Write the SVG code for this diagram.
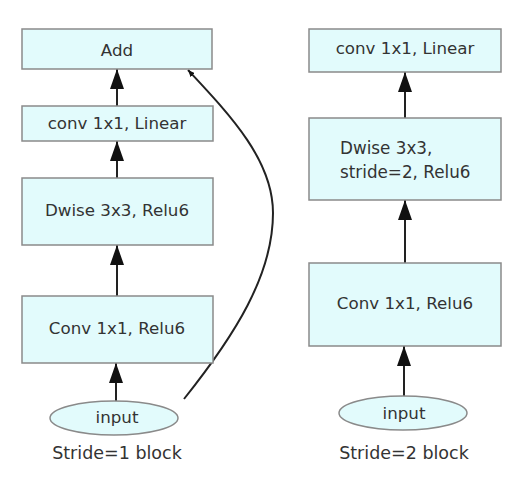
<svg xmlns="http://www.w3.org/2000/svg" width="518" height="478" viewBox="0 0 518 478">
<style>
.box{fill:#e2fbfc;stroke:#8a8a8a;stroke-width:1.5}
.t{font-family:"DejaVu Sans",sans-serif;font-size:16.7px;fill:#333;text-anchor:middle}
.tl{font-family:"DejaVu Sans",sans-serif;font-size:16.8px;fill:#333}
.cap{font-family:"DejaVu Sans",sans-serif;font-size:17.5px;fill:#333;text-anchor:middle}
.e{stroke:#222;stroke-width:2;fill:none}
</style>
<defs>
<marker id="ah" markerUnits="userSpaceOnUse" markerWidth="20" markerHeight="14" refX="20" refY="7" orient="auto" viewBox="0 0 20 14">
<path d="M0,0 L20,7 L0,14 Z" fill="#111"/>
</marker>
<marker id="ahs" markerUnits="userSpaceOnUse" markerWidth="7" markerHeight="6" refX="7" refY="3" orient="auto" viewBox="0 0 7 6">
<path d="M0,0 L7,3 L0,6 Z" fill="#111"/>
</marker>
</defs>
<rect width="518" height="478" fill="#fff"/>
<g id="connectors">
<line class="e" x1="117" y1="106" x2="117" y2="69" marker-end="url(#ah)"/>
<line class="e" x1="117" y1="178" x2="117" y2="141" marker-end="url(#ah)"/>
<line class="e" x1="117" y1="296" x2="117" y2="245" marker-end="url(#ah)"/>
<line class="e" x1="116" y1="401" x2="116" y2="363" marker-end="url(#ah)"/>
<path class="e" d="M184,399 C235,335 273,275 273,213 C273,160 230,115 188,70" stroke-width="1.6" marker-end="url(#ahs)"/>
<line class="e" x1="405" y1="118" x2="405" y2="72" marker-end="url(#ah)"/>
<line class="e" x1="405" y1="263" x2="405" y2="200" marker-end="url(#ah)"/>
<line class="e" x1="404" y1="396" x2="404" y2="346" marker-end="url(#ah)"/>
</g>
<g id="add"><rect class="box" x="22" y="29" width="190" height="40"/><text class="t" x="117" y="56">Add</text></g>
<g id="linear1"><rect class="box" x="22" y="106" width="191" height="35"/><text class="t" x="117" y="129">conv 1x1, Linear</text></g>
<g id="dwise1"><rect class="box" x="22" y="178" width="191" height="67"/><text class="t" x="117" y="216">Dwise 3x3, Relu6</text></g>
<g id="conv1"><rect class="box" x="22" y="296" width="191" height="67"/><text class="t" x="117" y="334">Conv 1x1, Relu6</text></g>
<g id="input1"><ellipse class="box" cx="114" cy="418" rx="64" ry="17"/><text class="t" x="117" y="423">input</text><text class="cap" x="117" y="459">Stride=1 block</text></g>
<g id="linear2"><rect class="box" x="309" y="29" width="192" height="43"/><text class="t" x="405" y="54">conv 1x1, Linear</text></g>
<g id="dwise2"><rect class="box" x="309" y="118" width="192" height="82"/><text class="tl" x="340" y="154">Dwise 3x3,</text><text class="tl" x="340" y="178">stride=2, Relu6</text></g>
<g id="conv2"><rect class="box" x="309" y="263" width="192" height="83"/><text class="t" x="405" y="309">Conv 1x1, Relu6</text></g>
<g id="input2"><ellipse class="box" cx="403" cy="413" rx="64" ry="17"/><text class="t" x="404" y="419">input</text><text class="cap" x="404" y="459">Stride=2 block</text></g>
</svg>
